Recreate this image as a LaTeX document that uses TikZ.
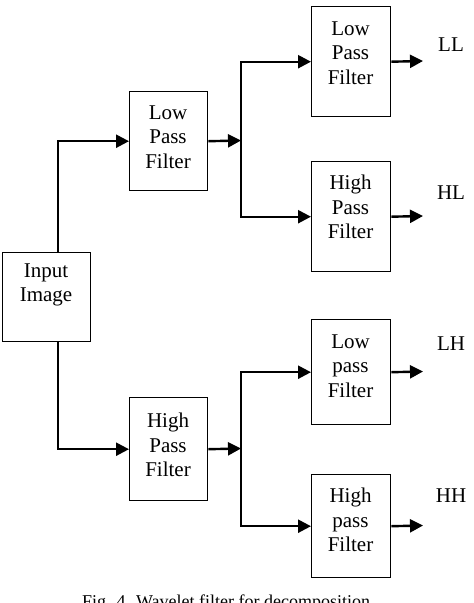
\documentclass[tikz,border=0pt]{standalone}
\usepackage{fontspec}
\setmainfont{Liberation Serif}
\usetikzlibrary{arrows.meta}
\begin{document}
\begin{tikzpicture}[x=1pt,y=-1pt,
  box/.style={draw,line width=1.4pt,inner sep=0pt,anchor=north west},
  txt/.style={font=\fontsize{21}{24.5}\selectfont,align=center,inner sep=0pt},
  conn/.style={line width=2.4pt},
  arr/.style={conn,-{Triangle[length=13pt,width=13pt]}},
  outlbl/.style={font=\fontsize{21}{24}\selectfont,inner sep=0pt}]
\useasboundingbox (0,0) rectangle (474,603);
% boxes
\node[box,minimum width=88pt,minimum height=89pt] (inp) at (2,252) {};
\node[box,minimum width=78pt,minimum height=99pt] (lp1) at (129,91) {};
\node[box,minimum width=78pt,minimum height=103pt] (hp1) at (129,397) {};
\node[box,minimum width=79pt,minimum height=110pt] (ll) at (311,6) {};
\node[box,minimum width=79pt,minimum height=110pt] (hl) at (311,161) {};
\node[box,minimum width=79pt,minimum height=105pt] (lh) at (311,319) {};
\node[box,minimum width=79pt,minimum height=103pt] (hh) at (311,474) {};
% texts
\node[txt] (tinp) at (46,285) {Input\\Image};
\node[txt] (tlp1) at (168,137) {Low\\Pass\\Filter};
\node[txt] (thp1) at (168,445) {High\\Pass\\Filter};
\node[txt] (tll) at (350.5,53) {Low\\Pass\\Filter};
\node[txt] (thl) at (350.5,207) {High\\Pass\\Filter};
\node[txt] (tlh) at (350.5,366) {Low\\pass\\Filter};
\node[txt] (thh) at (350.5,520) {High\\pass\\Filter};
% junction coordinates
\coordinate (j0) at (58,0);
\coordinate (b1) at (241,140.5);
\coordinate (b2) at (241,448.5);
\coordinate (oll) at (423,61);
\coordinate (ohl) at (423,216);
\coordinate (olh) at (423,371.5);
\coordinate (ohh) at (423,525.5);
% connectors
\draw[arr] (inp.north -| j0) |- (lp1.west);
\draw[arr] (inp.south -| j0) |- (hp1.west);
\draw[arr] (lp1.east) -- (b1);
\draw[arr] (hp1.east) -- (b2);
\draw[arr] (b1) |- (ll.west);
\draw[arr] (b1) |- (hl.west);
\draw[arr] (b2) |- (lh.west);
\draw[arr] (b2) |- (hh.west);
\draw[arr] (ll.east) -- (oll);
\draw[arr] (hl.east) -- (ohl);
\draw[arr] (lh.east) -- (olh);
\draw[arr] (hh.east) -- (ohh);
% output labels
\node[outlbl] (lll) at (451,45) {LL};
\node[outlbl] (lhl) at (451,193) {HL};
\node[outlbl] (llh) at (451,344) {LH};
\node[outlbl] (lhh) at (451,496) {HH};
% caption
\node[font=\fontsize{18}{20}\selectfont,inner sep=0pt,anchor=base] (cap) at (226,607) {Fig. 4. Wavelet filter for decomposition};
\end{tikzpicture}
\end{document}
